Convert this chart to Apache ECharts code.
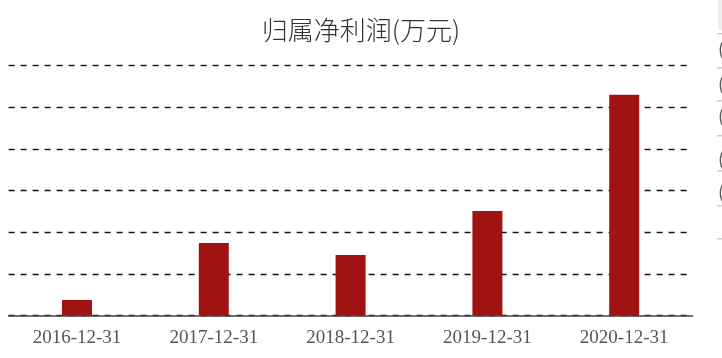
<!DOCTYPE html>
<html>
<head>
<meta charset="utf-8">
<script src="https://cdn.jsdelivr.net/npm/echarts@6/dist/echarts.min.js"></script>
<style>html,body{margin:0;padding:0;background:#fff;}#c{width:722px;height:358px;}</style>
</head>
<body>
<div id="c"></div>
<script>
var titleText = '归属净利润(万元)';
var categories = ['2016-12-31', '2017-12-31', '2018-12-31', '2019-12-31', '2020-12-31'];
var profitValues = [377, 1745, 1457, 2510, 5300];

var chart = echarts.init(document.getElementById('c'), null, {renderer: 'canvas'});
var sideMarks = [];
[50, 85, 117, 160, 193].forEach(function (y) {
  sideMarks.push({type: 'text', left: 718, top: y - 10, style: {text: '(', fill: '#555', font: '18px "Noto Sans CJK SC"'}, silent: true});
});
[33, 67, 100, 135, 170, 205, 238].forEach(function (y) {
  sideMarks.push({type: 'rect', shape: {x: 717, y: y, width: 5, height: 1.5}, style: {fill: '#ccc'}, silent: true});
});
sideMarks.push({type: 'rect', shape: {x: 718, y: 0, width: 4, height: 30}, style: {fill: '#eee'}, silent: true});

chart.setOption({
  animation: false,
  backgroundColor: '#fff',
  title: {
    text: titleText,
    left: 'center',
    top: 12,
    textStyle: {fontSize: 26, fontWeight: 300, color: '#333', fontFamily: '"Noto Sans CJK SC"'}
  },
  grid: {left: 8.6, right: 29.4, top: 65.7, bottom: 42.3, containLabel: false},
  xAxis: {
    type: 'category',
    data: categories,
    axisTick: {show: false},
    axisLine: {show: true, lineStyle: {color: '#444', width: 1.5}},
    axisLabel: {margin: 13, color: '#555', fontSize: 19, fontFamily: '"Liberation Serif"'}
  },
  yAxis: {
    type: 'value',
    min: 0,
    max: 6000,
    interval: 1000,
    axisLabel: {show: false},
    axisLine: {show: false},
    axisTick: {show: false},
    splitLine: {show: true, lineStyle: {color: '#111', type: [6, 6], width: 1.4}}
  },
  series: [{
    type: 'bar',
    data: profitValues,
    barWidth: 30,
    itemStyle: {color: '#a11313'}
  }],
  graphic: sideMarks
});
</script>
</body>
</html>
